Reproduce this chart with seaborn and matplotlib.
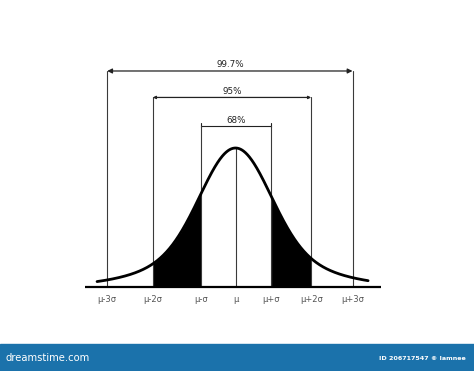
import numpy as np
import pandas as pd
import matplotlib
matplotlib.use("Agg")
import matplotlib.pyplot as plt
import seaborn as sns

# ---- data (x in units of 39 px; y normalised so the peak = 1) ----
tick_labels = ["μ-3σ", "μ-2σ", "μ-σ", "μ", "μ+σ", "μ+2σ", "μ+3σ"]
tick_pos = [-3.29, -2.12, -0.885, 0.0, 0.923, 1.94, 3.0]
bracket_labels = ["99.7%", "95%", "68%"]
bracket_left = [-3.29, -2.12, -0.885]
bracket_right = [3.0, 1.94, 0.923]
bracket_height = [1.556, 1.365, 1.159]
label_height = [1.606, 1.408, 1.202]
curve_range = [-3.55, 3.40]
# bell shape: core + wide tail component
core_weight = 0.75
core_width = 0.872
tail_width = 1.795

sns.set_theme(style="white")
plt.rcParams['font.family'] = ['DejaVu Sans']

x = np.linspace(curve_range[0], curve_range[1], 700)
y = (core_weight * np.exp(-x**2 / (2 * core_width**2))
     + (1 - core_weight) * np.exp(-x**2 / (2 * tail_width**2)))
df = pd.DataFrame({"x": x, "y": y})

fig = plt.figure(figsize=(4.74, 3.71), dpi=100)
ax = fig.add_axes([0, 0, 1, 1])
ax.set_xlim(-235.5 / 39, (474 - 235.5) / 39)
ax.set_ylim(-(371 - 286.5) / 138.5, 286.5 / 138.5)
ax.axis("off")

# shaded bands
for lo, hi in [(tick_pos[1], tick_pos[2]), (tick_pos[4], tick_pos[5])]:
    m = (df.x >= lo) & (df.x <= hi)
    ax.fill_between(df.x[m], 0, df.y[m], color="black", lw=0, zorder=2)

sns.lineplot(data=df, x="x", y="y", ax=ax, color="black", lw=2.0, zorder=4)

# baseline
ax.plot([(85 - 235.5) / 39, (381 - 235.5) / 39], [0, 0], color="black", lw=1.6, zorder=5,
        solid_capstyle="butt")

# vertical lines
line_col = "#3a3a3a"
for l, r, h in zip(bracket_left, bracket_right, bracket_height):
    ax.plot([l, l], [0, h], color=line_col, lw=0.8, zorder=3)
    ax.plot([r, r], [0, h], color=line_col, lw=0.8, zorder=3)
ax.plot([0, 0], [0, 1.0], color=line_col, lw=0.8, zorder=3)

# brackets
scales = [7, 4, 0]
for l, r, h, s, lab, lh in zip(bracket_left, bracket_right, bracket_height, scales,
                               bracket_labels, label_height):
    if s > 0:
        ax.annotate("", xy=(l, h), xytext=(r, h),
                    arrowprops=dict(arrowstyle="<|-|>", color="#222222", lw=0.9,
                                    mutation_scale=s, shrinkA=0, shrinkB=0))
    else:
        ax.plot([l, r], [h, h], color="#222222", lw=0.8)
        for xx in (l, r):
            ax.plot([xx, xx], [h - 0.01, h + 0.02], color="#222222", lw=0.8)
    ax.text((l + r) / 2, lh, lab, ha="center", va="center", fontsize=6.3, color="#222222")

# tick labels
for p, t in zip(tick_pos, tick_labels):
    ax.text(p, -(299 - 286.5) / 138.5, t, ha="center", va="center", fontsize=6,
            color="#555555")

# banner
fig.patches.append(plt.Rectangle((0, 0), 1, 27 / 371, transform=fig.transFigure,
                                 color="#1b72ab", zorder=0))
fig.text(6 / 474, 13 / 371, "dreamstime.com", color="white", fontsize=7.2, va="center",
         ha="left")
fig.text(466 / 474, 13 / 371, "ID 206717547 © Iamnee", color="white", fontsize=4.6,
         va="center", ha="right", fontweight="bold")

fig.savefig("out.png", dpi=100, facecolor="white")
